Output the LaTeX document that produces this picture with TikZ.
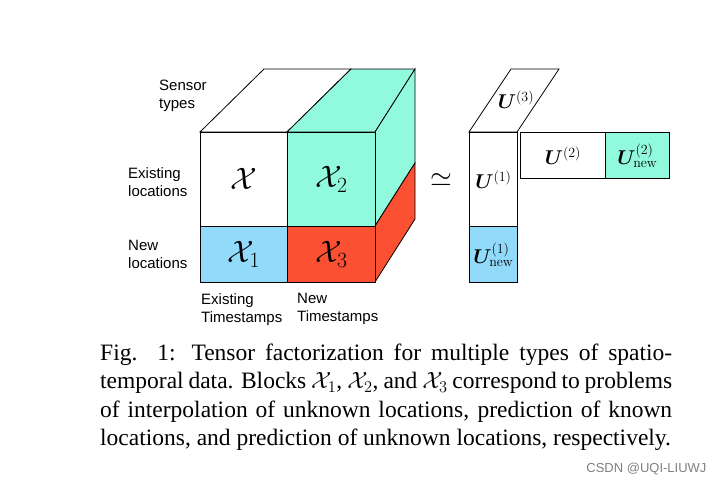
\RequirePackage{fix-cm}
\documentclass[tikz,border=0pt]{standalone}
\usepackage{amsmath,amssymb}
\usepackage{bm}
\usepackage[no-math]{fontspec}
\setmainfont{Liberation Serif}
\newfontfamily\lsans{Liberation Sans}
\definecolor{tgreen}{RGB}{146,250,220}
\definecolor{tblue}{RGB}{146,218,250}
\definecolor{tred}{RGB}{252,80,50}
\begin{document}
\begin{tikzpicture}[x=1pt,y=-1pt,
  face/.style={draw=black,line width=0.8pt},
  lab/.style={font=\lsans\fontsize{15}{18}\selectfont,align=left,inner sep=0pt},
  big/.style={font=\fontsize{31}{33}\selectfont},
  um/.style={font=\fontsize{20}{22}\selectfont},
  captext/.style={font=\fontsize{23.5}{28.5}\selectfont,anchor=north west,inner sep=0pt}]
\useasboundingbox (0,0) rectangle (722,490);
\path[face,fill=white] (200,132) -- (264,69) -- (351,69) -- (287,132) -- cycle;
\path[face,fill=tgreen] (287,132) -- (351,69) -- (415,69) -- (375,132) -- cycle;
\path[face,fill=tgreen] (375,132) -- (415,69) -- (415,163) -- (375,226) -- cycle;
\path[face,fill=tred] (375,226) -- (415,163) -- (415,219) -- (375,282) -- cycle;
\node[face,fill=white,minimum width=87pt,minimum height=94pt,anchor=north west,inner sep=0pt] (x) at (200,132) {};
\node[face,fill=tgreen,minimum width=88pt,minimum height=94pt,anchor=north west,inner sep=0pt] (x2) at (287,132) {};
\node[face,fill=tblue,minimum width=87pt,minimum height=56pt,anchor=north west,inner sep=0pt] (x1) at (200,226) {};
\node[face,fill=tred,minimum width=88pt,minimum height=56pt,anchor=north west,inner sep=0pt] (x3) at (287,226) {};
\node[big] at (x.center) {$\mathcal{X}$};
\node[big] at (x2.center) {$\mathcal{X}_2$};
\node[big] at (x1.center) {$\mathcal{X}_1$};
\node[big] at (x3.center) {$\mathcal{X}_3$};
\node[lab,anchor=west] (st) at (159,96) {Sensor\\ types};
\node[lab,anchor=west] (el) at (128,182) {Existing\\locations};
\node[lab,anchor=west] (nl) at (128,254) {New\\locations};
\node[lab,anchor=north west] (et) at (201,293) {Existing\\Timestamps};
\node[lab,anchor=north west] (nt) at (297,293) {New\\Timestamps};
\node[font=\fontsize{28}{30}\selectfont] (sim) at (441,180) {$\simeq$};
\path[face,fill=white] (469,132) -- (511,69) -- (559,69) -- (517,132) -- cycle;
\node[um] (u3) at (516,100) {$\bm{U}^{(3)}$};
\node[face,fill=white,minimum width=48pt,minimum height=94pt,anchor=north west,inner sep=0pt] (u1) at (469,132) {};
\node[um] at (u1.center) {$\bm{U}^{(1)}$};
\node[face,fill=tblue,minimum width=48pt,minimum height=56pt,anchor=north west,inner sep=0pt] (u1n) at (469,226) {};
\node[um,inner sep=0pt] at (u1n.center) {$\bm{U}^{(1)}_{\mathrm{new}}$};
\node[face,fill=white,minimum width=85pt,minimum height=46pt,anchor=north west,inner sep=0pt] (u2) at (520,132) {};
\node[um] at (u2.center) {$\bm{U}^{(2)}$};
\node[face,fill=tgreen,minimum width=64pt,minimum height=46pt,anchor=north west,inner sep=0pt] (u2n) at (605,132) {};
\node[um,inner sep=0pt] at (u2n.center) {$\bm{U}^{(2)}_{\mathrm{new}}$};
\node[captext] (c) at (100,340) {\begin{tabular}{@{}l@{}}
\makebox[572pt][s]{Fig. 1: Tensor factorization for multiple types of spatio-}\\
\makebox[572pt][s]{temporal data. Blocks $\mathcal{X}_1$, $\mathcal{X}_2$, and $\mathcal{X}_3$ correspond to problems}\\
\makebox[572pt][s]{of interpolation of unknown locations, prediction of known}\\
locations, and prediction of unknown locations, respectively.
\end{tabular}};
\node[font=\lsans\fontsize{13}{15}\selectfont,text=gray,anchor=east] (wm) at (710,469) {CSDN @UQI-LIUWJ};
\end{tikzpicture}
\end{document}
